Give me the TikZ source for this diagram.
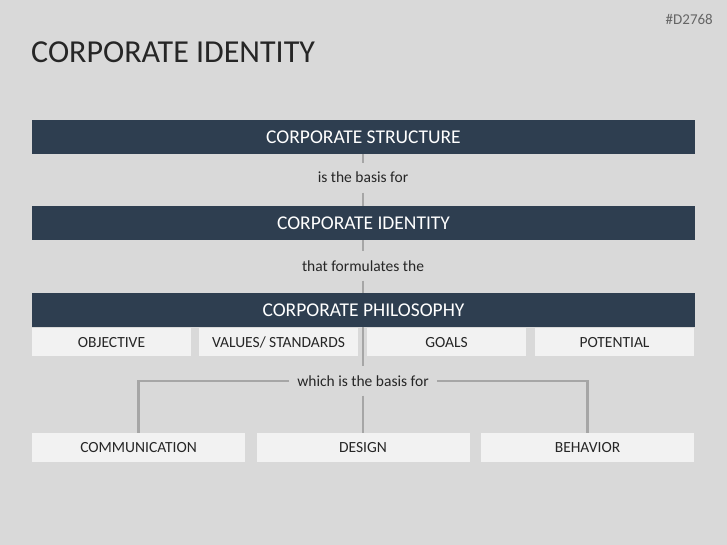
\documentclass[tikz,border=0pt]{standalone}
\usepackage{fontspec}
\setmainfont{Carlito}
\usetikzlibrary{backgrounds}
\definecolor{bg}{HTML}{D9D9D9}
\definecolor{darkbar}{HTML}{2E3E50}
\definecolor{lightbox}{HTML}{F2F2F2}
\definecolor{conn}{HTML}{A6A6A6}
\definecolor{txt}{HTML}{262626}
\tikzset{
  bar/.style={text height=12.6pt, text depth=0pt, fill=darkbar, draw=none, minimum width=663pt, minimum height=34pt, inner sep=0pt, text=white, font=\fontsize{19.5}{22}\selectfont},
  subbox/.style={text height=10pt, text depth=0pt, fill=lightbox, draw=none, minimum width=159pt, minimum height=28pt, inner sep=0pt, text=txt, font=\fontsize{15.5}{17}\selectfont},
  lowbox/.style={text height=10pt, text depth=0pt, fill=lightbox, draw=none, minimum width=213pt, minimum height=29pt, inner sep=0pt, text=txt, font=\fontsize{15.5}{17}\selectfont},
  lbl/.style={text height=10pt, text depth=0pt, inner xsep=8pt, inner ysep=0pt, minimum height=29pt, text=txt, font=\fontsize{15.5}{17}\selectfont},
  conn/.style={draw=conn, line width=2.6pt}
}
\begin{document}
\begin{tikzpicture}[x=1pt,y=-1pt]
\useasboundingbox (0,0) rectangle (727,545);
\node[anchor=base west, text=txt, font=\fontsize{32}{36}\selectfont, inner sep=0pt] (title) at (31,63) {CORPORATE IDENTITY};
\node[anchor=base east, text=gray!80!black, font=\fontsize{15}{17}\selectfont, inner sep=0pt] (code) at (713,25) {\#D2768};

\node[bar] (struct) at (363.5,137) {CORPORATE STRUCTURE};
\node[bar] (ident) at (363.5,223) {CORPORATE IDENTITY};
\node[bar] (phil) at (363.5,310) {CORPORATE PHILOSOPHY};

\node[subbox] (obj) at (111.5,342) {OBJECTIVE};
\node[subbox] (val) at (278.5,342) {VALUES/ STANDARDS};
\node[subbox] (goal) at (446.5,342) {GOALS};
\node[subbox] (pot) at (614.5,342) {POTENTIAL};

\node[lowbox] (comm) at (138.5,447.5) {COMMUNICATION};
\node[lowbox] (design) at (363,447.5) {DESIGN};
\node[lowbox] (behav) at (587.5,447.5) {BEHAVIOR};

\node[lbl] (l1) at (363,178) {is the basis for};
\node[lbl] (l2) at (363,266) {that formulates the};
\node[lbl] (l3) at (363,381) {which is the basis for};

\begin{pgfonlayer}{background}
\fill[bg] (0,0) rectangle (727,545);
\draw[conn] (struct.south -| l1.north) -- (l1.north);
\draw[conn] (l1.south) -- (ident.north -| l1.south);
\draw[conn] (ident.south -| l2.north) -- (l2.north);
\draw[conn] (l2.south) -- (phil.north -| l2.south);
\draw[conn] (phil.south -| l3.north) -- (l3.north);
\draw[conn] (l3.south) -- (design.north);
\draw[conn] (l3.west) -| (comm.north);
\draw[conn] (l3.east) -| (behav.north);
\end{pgfonlayer}
\end{tikzpicture}
\end{document}
